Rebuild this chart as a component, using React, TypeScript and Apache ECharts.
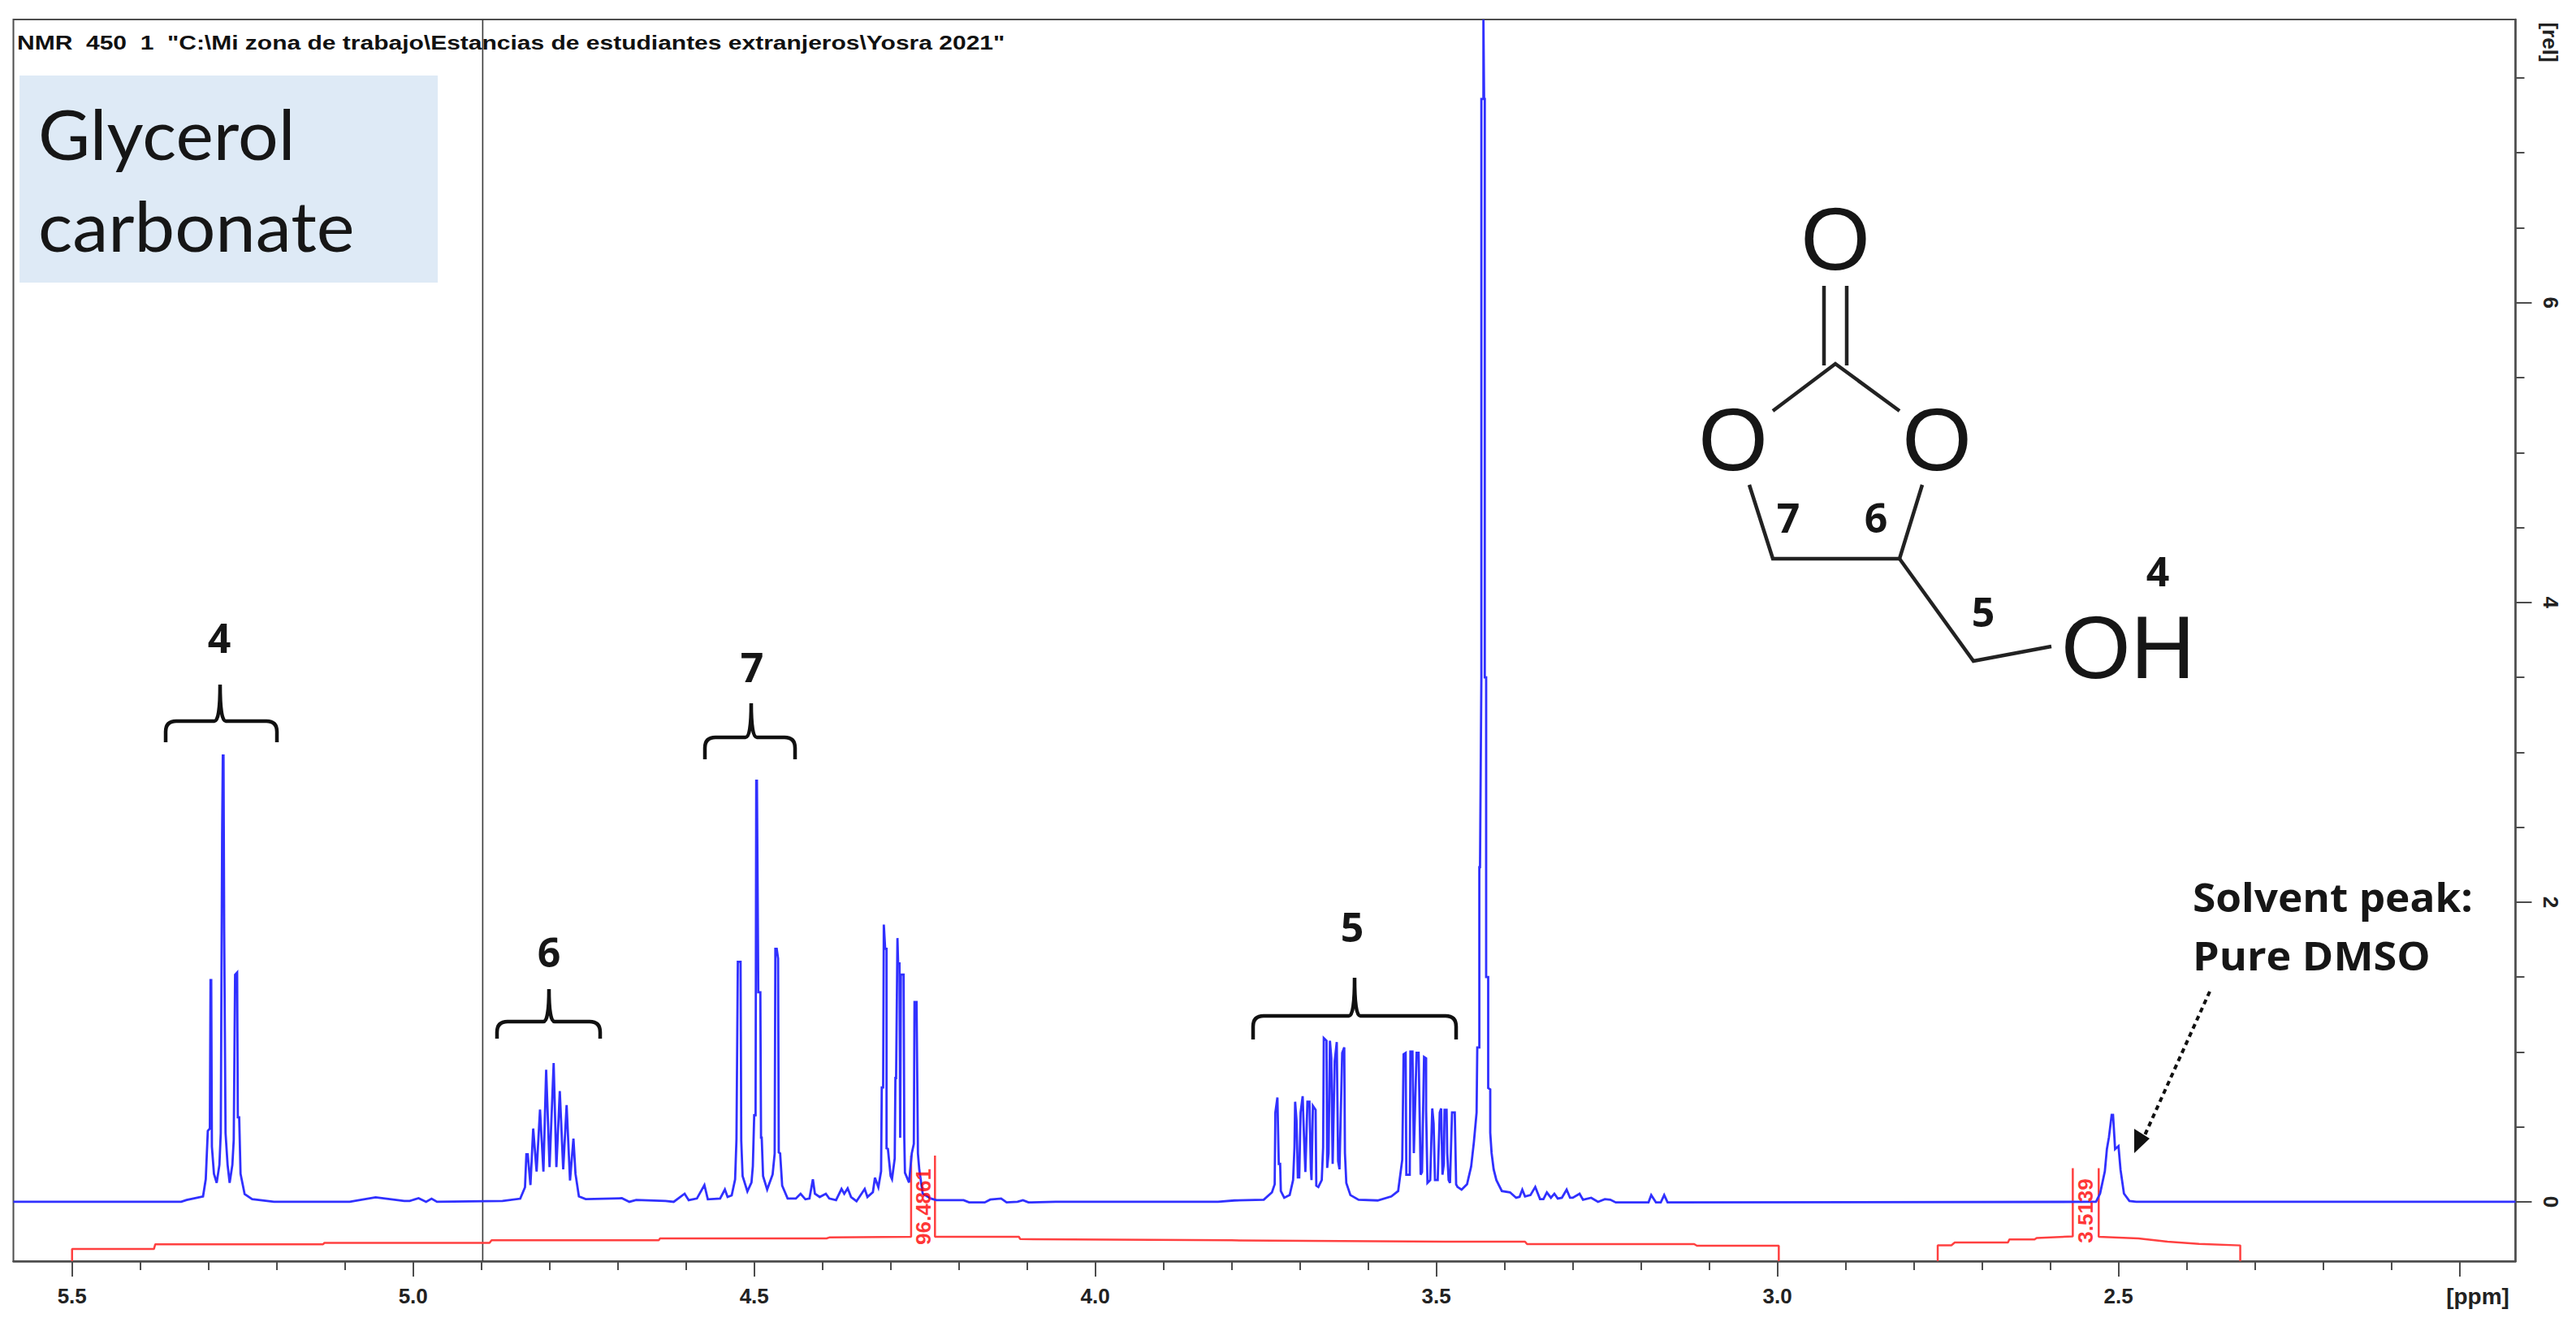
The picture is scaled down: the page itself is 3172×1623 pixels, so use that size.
import React, { useEffect, useRef } from "react";
import * as echarts from "echarts";

const xMajorTicks = [2, 2.5, 3, 3.5, 4, 4.5, 5, 5.5];
const xLabelTicks = [2.5, 3, 3.5, 4, 4.5, 5, 5.5];
const xMinorTicks = [2,2.1,2.2,2.3,2.4,2.5,2.6,2.7,2.8,2.9,3,3.1,3.2,3.3,3.4,3.5,3.6,3.7,3.8,3.9,4,4.1,4.2,4.3,4.4,4.5,4.6,4.7,4.8,4.9,5,5.1,5.2,5.3,5.4,5.5];
const yLabelTicks = [0, 2, 4, 6];
const yMinorTicks = [0,0.5,1,1.5,2,2.5,3,3.5,4,4.5,5,5.5,6,6.5,7,7.5];

const xMin = 1.918, xMax = 5.586, yMin = -0.396, yMax = 7.89;

const peakGroup4 = [[5.586,0],[5.34,0],[5.332,.012],[5.308,.036],[5.304,.151],[5.301,.474],[5.298,.489],[5.297,1.479],[5.296,1.479],[5.295,.368],[5.292,.187],[5.288,.127],[5.284,.247],[5.282,.459],[5.28,2.45],[5.279,2.978],[5.278,2.978],[5.277,1.817],[5.275,.459],[5.272,.247],[5.269,.127],[5.265,.247],[5.263,.413],[5.261,1.515],[5.258,1.53],[5.257,.564],[5.255,.564],[5.253,.187],[5.247,.051],[5.236,.018],[5.204,0]];
const peakGroup6 = [[5.093,0],[5.055,.03],[5.013,.006],[5.005,.006],[4.992,.024],[4.981,0],[4.973,.021],[4.965,0],[4.869,.006],[4.843,.021],[4.836,.097],[4.834,.317],[4.832,.317],[4.828,.112],[4.824,.489],[4.819,.202],[4.814,.616],[4.809,.202],[4.805,.881],[4.8,.232],[4.794,.926],[4.79,.232],[4.785,.739],[4.78,.217],[4.775,.646],[4.77,.142],[4.765,.422],[4.762,.187],[4.757,.036],[4.747,.018],[4.694,.024],[4.683,0],[4.673,.012],[4.63,.006]];
const peakGroup7 = [[4.618,0],[4.602,.054],[4.596,.011],[4.584,.022],[4.573,.112],[4.568,.017],[4.55,.022],[4.543,.082],[4.539,.032],[4.533,.043],[4.528,.15],[4.526,.419],[4.524,1.602],[4.52,1.602],[4.519,.409],[4.517,.172],[4.51,.069],[4.504,.129],[4.502,.237],[4.5,.578],[4.498,.578],[4.497,2.81],[4.496,2.81],[4.494,1.398],[4.491,1.398],[4.49,.428],[4.489,.428],[4.487,.172],[4.481,.082],[4.473,.183],[4.47,.323],[4.469,1.688],[4.467,1.688],[4.465,1.624],[4.464,.33],[4.462,.323],[4.459,.108],[4.451,.022],[4.439,.022],[4.432,.054],[4.425,.017],[4.419,.022],[4.414,.15],[4.411,.054],[4.404,.032],[4.395,.054],[4.39,.022],[4.38,.011],[4.372,.086],[4.368,.054],[4.363,.09],[4.358,.032],[4.35,.004],[4.338,.086],[4.334,.032],[4.326,.065],[4.323,.161],[4.318,.097]];
const peakGroupMid = [[4.314,.204],[4.313,.763],[4.311,.763],[4.31,1.85],[4.308,1.688],[4.306,1.688],[4.306,.357],[4.304,.353],[4.3,.172],[4.298,.151],[4.294,.29],[4.293,.826],[4.292,.826],[4.29,1.76],[4.289,1.591],[4.287,1.591],[4.286,.428],[4.285,1.516],[4.281,1.516],[4.28,.428],[4.279,.194],[4.273,.129],[4.269,.323],[4.266,.387],[4.265,1.333],[4.262,1.333],[4.26,.323],[4.258,.215],[4.253,.054],[4.241,.022],[4.233,.011],[4.193,.011],[4.185,-.004],[4.162,-.004],[4.154,.015],[4.138,.022],[4.13,-.004],[4.114,0],[4.106,.011],[4.098,-.004],[4.058,0]];
const peakGroup5a = [[3.82,0],[3.796,.009],[3.753,.014],[3.741,.063],[3.737,.117],[3.736,.596],[3.733,.696],[3.731,.253],[3.729,.253],[3.728,.072],[3.723,.027],[3.715,.045],[3.71,.145],[3.708,.361],[3.707,.668],[3.705,.542],[3.703,.163],[3.701,.163],[3.699,.596],[3.696,.705],[3.694,.434],[3.692,.199],[3.689,.668],[3.686,.668],[3.684,.217],[3.683,.145],[3.681,.641],[3.677,.614],[3.676,.108],[3.673,.099],[3.668,.145],[3.666,.361],[3.665,1.093],[3.661,1.075],[3.66,.226],[3.658,.325],[3.656,1.075],[3.654,.958],[3.652,.253],[3.649,.939],[3.646,1.066],[3.644,.271],[3.642,.217],[3.638,.994],[3.635,1.03],[3.634,.325],[3.632,.126],[3.626,.045],[3.614,.014],[3.586,.009]];
const peakGroup5b = [[3.566,.036],[3.556,.072],[3.55,.28],[3.548,.985],[3.545,.994],[3.544,.181],[3.539,.181],[3.538,1.003],[3.535,1.003],[3.533,.325],[3.529,.994],[3.526,.994],[3.523,.181],[3.521,.199],[3.518,.967],[3.515,.958],[3.515,.614],[3.513,.126],[3.509,.145],[3.506,.623],[3.504,.524],[3.502,.145],[3.498,.145],[3.495,.596],[3.493,.623],[3.491,.181],[3.489,.253],[3.488,.614],[3.485,.614],[3.484,.325],[3.482,.145],[3.48,.126],[3.477,.596],[3.473,.596],[3.471,.117],[3.469,.099],[3.463,.081],[3.455,.117],[3.449,.235],[3.445,.397],[3.441,.596]];
const tallPeak = [[3.44,1.03],[3.437,1.03],[3.437,2.233],[3.436,2.233],[3.434,3.5],[3.434,7.36],[3.431,7.36],[3.431,7.89],[3.431,7.89],[3.43,7.36],[3.429,7.36],[3.429,3.5],[3.427,3.5],[3.427,1.5],[3.424,1.5],[3.424,.759],[3.421,.75],[3.421,.461],[3.419,.325],[3.416,.217],[3.412,.145],[3.404,.072],[3.392,.063],[3.383,.027],[3.378,.033],[3.374,.081],[3.37,.036],[3.362,.045],[3.355,.099],[3.348,.018],[3.343,.018],[3.338,.063],[3.332,.027],[3.327,.054],[3.322,.022],[3.316,.027],[3.309,.081],[3.304,.027],[3.3,.027],[3.29,.054],[3.285,.014],[3.273,.027],[3.263,0],[3.253,.018],[3.245,.014],[3.237,-.004],[3.189,-.004],[3.185,.045],[3.178,-.004],[3.171,-.004],[3.166,.045],[3.161,-.004]];
const dmsoPeak = [[2.533,0],[2.527,.055],[2.52,.204],[2.517,.352],[2.514,.431],[2.51,.58],[2.508,.58],[2.506,.431],[2.505,.352],[2.5,.372],[2.497,.214],[2.492,.055],[2.484,.006],[2.474,0],[1.918,0]];
const spectrum = [...peakGroup4, ...peakGroup6, ...peakGroup7, ...peakGroupMid, ...peakGroup5a, ...peakGroup5b, ...tallPeak, ...dmsoPeak];

const integralMainLeft = [[5.5,-.396],[5.5,-.315],[5.38,-.315],[5.378,-.283],[5.132,-.283],[5.13,-.274],[4.888,-.274],[4.885,-.256],[4.64,-.256],[4.638,-.244],[4.394,-.244],[4.39,-.238],[4.27,-.233],[4.27,.309]];
const integralMainRight = [[4.235,.309],[4.235,-.233],[4.112,-.233],[4.11,-.249],[3.8,-.257],[3.487,-.266],[3.37,-.266],[3.367,-.282],[3.122,-.282],[3.118,-.293],[2.998,-.293],[2.998,-.396]];
const integralDmsoLeft = [[2.765,-.396],[2.765,-.29],[2.745,-.29],[2.74,-.271],[2.662,-.271],[2.66,-.251],[2.623,-.251],[2.62,-.241],[2.567,-.231],[2.567,.224]];
const integralDmsoRight = [[2.529,.224],[2.529,-.233],[2.471,-.244],[2.428,-.266],[2.382,-.281],[2.3215,-.291],[2.3215,-.396]];
const integralLabels = [{ value: [4.252, -.033], text: "96.4861" }, { value: [2.548, -.06], text: "3.5139" }];
const cursorLine = [[4.898, yMin], [4.898, yMax]];

const fileTitle = 'NMR  450  1  "C:\\Mi zona de trabajo\\Estancias de estudiantes extranjeros\\Yosra 2021"';
const sampleLines = ["Glycerol", "carbonate"];
const solventLines = ["Solvent peak:", "Pure DMSO"];

function bracketPath(L: number, R: number, T: number, B: number, S: number, U: number) {
  const r = 13;
  return `M${L} ${B}L${L} ${T + r}Q${L} ${T} ${L + r} ${T}L${S - 7} ${T}Q${S} ${T} ${S} ${U}M${R} ${B}L${R} ${T + r}Q${R} ${T} ${R - r} ${T}L${S + 7} ${T}Q${S} ${T} ${S} ${U}`;
}
const brackets = [
  ["br4", bracketPath(204, 341, 888, 914, 271, 843)],
  ["br6", bracketPath(612, 739, 1258, 1279, 676, 1218)],
  ["br7", bracketPath(868, 979, 908, 935, 925, 866)],
  ["br5", bracketPath(1543, 1793, 1251, 1280, 1668, 1204)],
];
brackets.forEach(([n, d]) => echarts.graphic.registerShape(n, echarts.graphic.extendPath(d, {})));

const AX = "#4d4d4d";
const INK = "#161616";
const OPEN = "'Open Sans', 'Noto Sans', sans-serif";
const LATO = "Lato, 'Noto Sans', sans-serif";
const ARIAL = "'Liberation Sans', Arial, sans-serif";

const t = (text: string, x: number, y: number, fontSize: number, extra: any = {}, el: any = {}) => ({
  type: "text", x, y, silent: true, ...el,
  style: { text, fontSize, fontFamily: OPEN, fontWeight: "bold", fill: INK, align: "center", verticalAlign: "middle", ...extra },
});
const seg = (pts: number[][], lineWidth = 4.5) => ({
  type: "polyline", silent: true,
  shape: { points: pts },
  style: { stroke: "#222", lineWidth, fill: "none", lineJoin: "miter" },
});

export default function App() {
  const ref = useRef<HTMLDivElement>(null);
  useEffect(() => {
    const chart = echarts.init(ref.current!, undefined, { renderer: "svg" });
    const axisFont = { fontFamily: ARIAL, fontWeight: "bold", fontSize: 26, color: "#222" };
    chart.setOption({
      animation: false,
      backgroundColor: "#ffffff",
      grid: { left: 16.5, right: 74.5, top: 24, bottom: 70, show: true, borderColor: AX, borderWidth: 2, containLabel: false },
      xAxis: [
        { type: "value", inverse: true, min: xMin, max: xMax, position: "bottom", splitLine: { show: false },
          axisLine: { show: true, onZero: false, lineStyle: { color: AX, width: 2.5 } },
          axisTick: { show: true, customValues: xMajorTicks, length: 19, lineStyle: { color: AX, width: 2 } },
          axisLabel: { show: true, customValues: xLabelTicks, margin: 30, formatter: (v: number) => v.toFixed(1), ...axisFont } },
        { type: "value", inverse: true, min: xMin, max: xMax, position: "bottom", splitLine: { show: false },
          axisLine: { show: false, onZero: false },
          axisTick: { show: true, customValues: xMinorTicks, length: 11, lineStyle: { color: AX, width: 2 } },
          axisLabel: { show: false } },
      ],
      yAxis: [
        { type: "value", min: yMin, max: yMax, position: "right", splitLine: { show: false },
          axisLine: { show: true, onZero: false, lineStyle: { color: AX, width: 2.5 } },
          axisTick: { show: true, customValues: yLabelTicks, length: 20, lineStyle: { color: AX, width: 2 } },
          axisLabel: { show: true, customValues: yLabelTicks, rotate: -90, margin: 30, formatter: (v: number) => String(v), ...axisFont } },
        { type: "value", min: yMin, max: yMax, position: "right", splitLine: { show: false },
          axisLine: { show: false, onZero: false },
          axisTick: { show: true, customValues: yMinorTicks, length: 11, lineStyle: { color: AX, width: 2 } },
          axisLabel: { show: false } },
      ],
      series: [
        { type: "line", name: "cursor", data: cursorLine, showSymbol: false, lineStyle: { color: "#3a3a3a", width: 1.6 }, z: 1 },
        ...[integralMainLeft, integralMainRight, integralDmsoLeft, integralDmsoRight].map((d) => ({
          type: "line", data: d, showSymbol: false, lineStyle: { color: "#ff4040", width: 2.5 }, z: 2,
        })),
        { type: "line", name: "spectrum", data: spectrum, showSymbol: false, lineStyle: { color: "#3030ff", width: 2.8, join: "miter" }, z: 3, clip: true },
        { type: "scatter", name: "integral values", data: integralLabels.map((d) => ({ value: d.value, name: d.text })), symbolSize: 1, itemStyle: { color: "rgba(0,0,0,0)" }, z: 4,
          label: { show: true, position: "inside", rotate: 90, formatter: (p: any) => p.name, color: "#ff0000", fontFamily: ARIAL, fontWeight: "bold", fontSize: 26 } },
      ],
      graphic: [
        { type: "rect", silent: true, shape: { x: 24, y: 93, width: 515, height: 255 }, style: { fill: "#deeaf6" } },
        t(fileTitle, 21, 53, 24, { fontFamily: ARIAL, align: "left", fill: "#111" }, { scaleX: 1.25 }),
        t(sampleLines[0], 47, 164, 86, { fontFamily: LATO, fontWeight: "normal", align: "left" }, { scaleX: 1.02 }),
        t(sampleLines[1], 47, 277, 86, { fontFamily: LATO, fontWeight: "normal", align: "left" }, { scaleX: 1.03 }),
        t("[ppm]", 3051, 1596, 28, { fontFamily: ARIAL, fill: "#222" }),
        t("[rel]", 3140, 52, 26, { fontFamily: ARIAL, fill: "#222" }, { rotation: -Math.PI / 2 }),
        ...brackets.map(([n]) => ({ type: n, silent: true, style: { fill: "none", stroke: "#111", lineWidth: 4.5 } })),
        t("4", 270, 785, 50), t("6", 676, 1172, 50), t("7", 926, 821, 50), t("5", 1665, 1141, 50),
        t(solventLines[0], 2700, 1105, 48, { align: "left" }, { scaleX: 1.07 }),
        t(solventLines[1], 2700, 1176, 48, { align: "left" }, { scaleX: 1.085 }),
        { type: "line", silent: true, shape: { x1: 2721, y1: 1221, x2: 2640, y2: 1400 }, style: { stroke: "#111", lineWidth: 4, lineDash: [6, 5] } },
        { type: "polygon", silent: true, shape: { points: [[2628, 1420], [2628, 1390], [2647, 1402]] }, style: { fill: "#111" } },
        t("O", 2260, 293, 110, { fontFamily: ARIAL, fontWeight: "normal" }),
        t("O", 2134, 540, 110, { fontFamily: ARIAL, fontWeight: "normal" }),
        t("O", 2385, 540, 110, { fontFamily: ARIAL, fontWeight: "normal" }),
        t("OH", 2538, 796, 110, { fontFamily: ARIAL, fontWeight: "normal", align: "left" }),
        seg([[2246, 352], [2246, 450]]), seg([[2274, 352], [2274, 450]]),
        seg([[2183, 506], [2260, 448], [2339, 506]]),
        seg([[2154, 597], [2183, 688], [2339, 688], [2367, 597]]),
        seg([[2339, 688], [2430, 814], [2526, 796]]),
        t("7", 2202, 637, 50), t("6", 2310, 637, 50), t("5", 2442, 753, 50), t("4", 2657, 703, 50),
      ],
    });
    return () => chart.dispose();
  }, []);
  return <div ref={ref} style={{ position: "absolute", left: 0, top: 0, width: 3172, height: 1623 }} />;
}
